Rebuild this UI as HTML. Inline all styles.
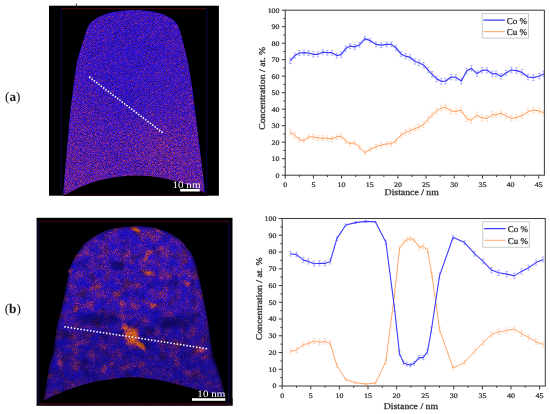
<!DOCTYPE html>
<html lang="en"><head><meta charset="utf-8"><title>APT concentration profiles</title>
<style>
html,body{margin:0;padding:0;background:#fff}
body{width:550px;height:414px;overflow:hidden}
svg{display:block;font-family:"Liberation Serif","DejaVu Serif",serif;text-rendering:geometricPrecision}
</style></head><body>
<svg width="550" height="414" viewBox="0 0 550 414">
<defs>
<filter id="nzA" x="0" y="0" width="100%" height="100%" color-interpolation-filters="sRGB">
<feTurbulence type="fractalNoise" baseFrequency="1.35" numOctaves="1" seed="7" result="t"/>
<feColorMatrix in="t" type="matrix" values="1 0 0 0 0  0 1 0 0 0  0 0 1 0 0  0 0 0 0 1" result="n"/>
<feComposite in="n" in2="SourceGraphic" operator="arithmetic" k1="0" k2="1" k3="1" k4="-0.5" result="sum"/>
<feColorMatrix in="sum" type="matrix" values="1 0 0 0 0  1 0 0 0 0  1 0 0 0 0  0 0 0 0 1" result="c3"/>
<feComponentTransfer in="c3" result="col"><feFuncR type="table" tableValues="0.080 0.090 0.100 0.110 0.120 0.130 0.140 0.170 0.200 0.250 0.300 0.380 0.460 0.550 0.640 0.710 0.780 0.830 0.880 0.920 0.960"/><feFuncG type="table" tableValues="0.050 0.054 0.058 0.061 0.065 0.069 0.073 0.076 0.080 0.090 0.100 0.120 0.140 0.170 0.200 0.235 0.270 0.315 0.360 0.410 0.460"/><feFuncB type="table" tableValues="0.920 0.913 0.907 0.900 0.893 0.887 0.880 0.860 0.840 0.805 0.770 0.715 0.660 0.595 0.530 0.465 0.400 0.310 0.220 0.140 0.060"/></feComponentTransfer>
<feGaussianBlur in="col" stdDeviation="0.36" result="colb"/>
<feColorMatrix in="n" type="matrix" values="0 0 1.9 0 0.03  0 0 1.9 0 0.03  0 0 1.9 0 0.03  0 0 0 0 1" result="br"/>
<feComposite in="colb" in2="br" operator="arithmetic" k1="1" k2="0" k3="0" k4="0" result="m"/>
<feGaussianBlur in="m" stdDeviation="0.22" result="mb"/>
<feGaussianBlur in="SourceAlpha" stdDeviation="0.55" result="sa"/>
<feComposite in="mb" in2="sa" operator="in"/>
</filter>
<radialGradient id="gA" cx="0.52" cy="0.22" r="0.85" fx="0.52" fy="0.22">
<stop offset="0" stop-color="rgb(108,128,128)"/><stop offset="0.4" stop-color="rgb(119,128,128)"/><stop offset="0.75" stop-color="rgb(138,128,128)"/><stop offset="1" stop-color="rgb(146,128,128)"/>
</radialGradient>
<filter id="nzB" x="0" y="0" width="100%" height="100%" color-interpolation-filters="sRGB">
<feTurbulence type="fractalNoise" baseFrequency="1.35" numOctaves="1" seed="3" result="t"/>
<feColorMatrix in="t" type="matrix" values="1 0 0 0 0  0 1 0 0 0  0 0 1 0 0  0 0 0 0 1" result="n"/>
<feTurbulence type="fractalNoise" baseFrequency="0.1" numOctaves="2" seed="11" result="t2"/>
<feColorMatrix in="t2" type="matrix" values="1 0 0 0 0  0 1 0 0 0  0 0 1 0 0  0 0 0 0 1" result="mm"/>
<feComposite in="n" in2="mm" operator="arithmetic" k1="0" k2="0.85" k3="0.7" k4="-0.275" result="s1"/>
<feComposite in="s1" in2="SourceGraphic" operator="arithmetic" k1="0" k2="1" k3="1" k4="-0.5" result="sum"/>
<feColorMatrix in="sum" type="matrix" values="1 0 0 0 0  1 0 0 0 0  1 0 0 0 0  0 0 0 0 1" result="c3"/>
<feComponentTransfer in="c3" result="col"><feFuncR type="table" tableValues="0.080 0.090 0.100 0.110 0.120 0.130 0.140 0.170 0.200 0.250 0.300 0.380 0.460 0.550 0.640 0.710 0.780 0.830 0.880 0.920 0.960"/><feFuncG type="table" tableValues="0.050 0.054 0.058 0.061 0.065 0.069 0.073 0.076 0.080 0.090 0.100 0.120 0.140 0.170 0.200 0.235 0.270 0.315 0.360 0.410 0.460"/><feFuncB type="table" tableValues="0.920 0.913 0.907 0.900 0.893 0.887 0.880 0.860 0.840 0.805 0.770 0.715 0.660 0.595 0.530 0.465 0.400 0.310 0.220 0.140 0.060"/></feComponentTransfer>
<feGaussianBlur in="col" stdDeviation="0.5" result="colb"/>
<feColorMatrix in="n" type="matrix" values="0 0 1.0 0 0.36  0 0 1.0 0 0.36  0 0 1.0 0 0.36  0 0 0 0 1" result="nb"/>
<feColorMatrix in="SourceGraphic" type="matrix" values="0 2 0 0 0  0 2 0 0 0  0 2 0 0 0  0 0 0 1 0" result="sg"/>
<feColorMatrix in="mm" type="matrix" values="0 1.0 0 0 0.5  0 1.0 0 0 0.5  0 1.0 0 0 0.5  0 0 0 0 1" result="mg"/>
<feComposite in="sg" in2="mg" operator="arithmetic" k1="1" k2="0" k3="0" k4="0" result="sg2"/>
<feComposite in="nb" in2="sg2" operator="arithmetic" k1="1" k2="0" k3="0" k4="0" result="br"/>
<feComposite in="colb" in2="br" operator="arithmetic" k1="1" k2="0" k3="0" k4="0" result="m"/>
<feGaussianBlur in="m" stdDeviation="0.35" result="mb"/>
<feGaussianBlur in="SourceAlpha" stdDeviation="2.2" result="sa"/>
<feComposite in="mb" in2="sa" operator="in"/>
</filter>
<linearGradient id="gB" x1="0" y1="0" x2="0" y2="1">
<stop offset="0" stop-color="rgb(118,128,128)"/><stop offset="0.45" stop-color="rgb(113,122,128)"/><stop offset="0.6" stop-color="rgb(108,104,128)"/><stop offset="1" stop-color="rgb(106,98,128)"/>
</linearGradient>
<radialGradient id="ra"><stop offset="0" stop-color="rgb(150,128,128)" stop-opacity="0.8"/><stop offset="1" stop-color="rgb(146,128,128)" stop-opacity="0"/></radialGradient>
<radialGradient id="ba"><stop offset="0" stop-color="rgb(104,128,128)" stop-opacity="0.9"/><stop offset="1" stop-color="rgb(110,128,128)" stop-opacity="0"/></radialGradient>
<radialGradient id="ob"><stop offset="0" stop-color="rgb(245,135,128)" stop-opacity="1"/><stop offset="0.5" stop-color="rgb(232,130,128)" stop-opacity="0.9"/><stop offset="1" stop-color="rgb(170,120,128)" stop-opacity="0"/></radialGradient>
<radialGradient id="os"><stop offset="0" stop-color="rgb(205,125,128)" stop-opacity="0.95"/><stop offset="0.5" stop-color="rgb(190,122,128)" stop-opacity="0.75"/><stop offset="1" stop-color="rgb(165,118,128)" stop-opacity="0"/></radialGradient>
<radialGradient id="db"><stop offset="0" stop-color="rgb(78,66,128)" stop-opacity="0.95"/><stop offset="0.6" stop-color="rgb(82,76,128)" stop-opacity="0.7"/><stop offset="1" stop-color="rgb(90,95,128)" stop-opacity="0"/></radialGradient>
<clipPath id="cpA"><path d="M62.3 200.0C62.4 198.9 62.7 198.9 63.2 193.6C63.7 188.3 64.5 176.8 65.2 168.0C65.9 159.2 66.8 150.0 67.6 141.0C68.4 132.0 69.0 123.0 70.0 114.0C71.0 105.0 72.2 95.4 73.3 87.0C74.4 78.6 75.7 68.9 76.7 63.4C77.7 57.9 78.0 57.9 79.1 54.1C80.2 50.3 81.8 44.8 83.2 40.5C84.6 36.2 85.9 31.3 87.3 28.2C88.7 25.1 89.1 23.9 91.4 21.9C93.7 19.8 97.1 17.6 100.9 15.9C104.8 14.2 109.3 12.8 114.5 11.8C119.7 10.8 126.4 10.0 132.3 9.9C138.2 9.8 144.8 10.2 150.0 11.0C155.2 11.8 159.7 13.0 163.6 14.5C167.5 16.0 170.7 17.9 173.2 20.0C175.7 22.1 177.0 23.4 178.6 26.8C180.2 30.2 181.5 36.0 182.7 40.5C183.9 45.0 185.1 50.2 186.0 54.1C186.9 58.0 187.2 58.1 188.2 63.6C189.2 69.1 190.9 78.6 192.1 87.0C193.3 95.4 194.4 105.0 195.5 114.0C196.6 123.0 197.8 132.0 198.9 141.0C200.0 150.0 201.3 159.5 202.3 168.0C203.3 176.5 204.4 186.7 205.0 192.0C205.6 197.3 205.7 198.7 205.8 200.0Z"/></clipPath>
<clipPath id="cA"><rect x="49" y="5.7" width="169.9" height="190"/></clipPath>
<clipPath id="cB"><rect x="36.6" y="217.8" width="195.9" height="187.8"/></clipPath>
</defs>
<rect width="550" height="414" fill="#fff"/>

<g id="imgA">
<rect x="49" y="5.7" width="169.9" height="190" fill="#000"/>
<path d="M76.4 3.6V6.5" stroke="#111" stroke-width="0.8"/>
<g clip-path="url(#cA)">
<g filter="url(#nzA)">
<path id="shA" d="M62.3 200.0C62.4 198.9 62.7 198.9 63.2 193.6C63.7 188.3 64.5 176.8 65.2 168.0C65.9 159.2 66.8 150.0 67.6 141.0C68.4 132.0 69.0 123.0 70.0 114.0C71.0 105.0 72.2 95.4 73.3 87.0C74.4 78.6 75.7 68.9 76.7 63.4C77.7 57.9 78.0 57.9 79.1 54.1C80.2 50.3 81.8 44.8 83.2 40.5C84.6 36.2 85.9 31.3 87.3 28.2C88.7 25.1 89.1 23.9 91.4 21.9C93.7 19.8 97.1 17.6 100.9 15.9C104.8 14.2 109.3 12.8 114.5 11.8C119.7 10.8 126.4 10.0 132.3 9.9C138.2 9.8 144.8 10.2 150.0 11.0C155.2 11.8 159.7 13.0 163.6 14.5C167.5 16.0 170.7 17.9 173.2 20.0C175.7 22.1 177.0 23.4 178.6 26.8C180.2 30.2 181.5 36.0 182.7 40.5C183.9 45.0 185.1 50.2 186.0 54.1C186.9 58.0 187.2 58.1 188.2 63.6C189.2 69.1 190.9 78.6 192.1 87.0C193.3 95.4 194.4 105.0 195.5 114.0C196.6 123.0 197.8 132.0 198.9 141.0C200.0 150.0 201.3 159.5 202.3 168.0C203.3 176.5 204.4 186.7 205.0 192.0C205.6 197.3 205.7 198.7 205.8 200.0Z" fill="url(#gA)"/>
<g clip-path="url(#cpA)">
<ellipse cx="160" cy="150" rx="48" ry="42" fill="url(#ra)"/>
<ellipse cx="120" cy="70" rx="45" ry="55" fill="url(#ba)"/>
</g>
</g>
<ellipse cx="136.5" cy="275.5" rx="120" ry="100" fill="#000"/>
</g>
<path d="M61.5 8.7H206.6" stroke="#5a0d10" stroke-width="0.9"/>
<path d="M61 8.7V195M206.7 8.7V195" stroke="#0e0b50" stroke-width="0.8"/>
<path d="M61 194.7H207" stroke="#2c0708" stroke-width="0.8"/>
<path d="M89.7 77.3 L163.6 133.4" stroke="#fff" stroke-width="1.75" stroke-dasharray="0.01 2.92" stroke-linecap="round" fill="none"/>
<rect x="180.2" y="188.9" width="19.6" height="2.6" fill="#fff"/>
<text transform="translate(200.5 187.8) scale(1.14 1)" font-size="9.7" fill="#fff" text-anchor="end">10 nm</text>
</g>

<g id="imgB">
<rect x="36.6" y="217.8" width="195.9" height="187.8" fill="#000"/>
<g clip-path="url(#cB)">
<g filter="url(#nzB)">
<path id="shB" d="M42.0 410.0C42.2 408.5 42.6 405.0 43.3 401.0C44.0 397.0 45.1 391.5 46.0 386.0C46.9 380.5 47.5 373.8 48.7 368.0C49.9 362.2 52.0 357.5 53.3 351.0C54.6 344.5 55.1 335.8 56.4 329.0C57.7 322.2 59.4 316.8 61.0 310.0C62.6 303.2 64.2 295.3 65.8 288.0C67.4 280.7 68.3 272.2 70.5 266.0C72.7 259.8 76.3 254.7 79.1 250.5C81.9 246.3 83.7 243.9 87.3 240.9C90.9 237.9 96.4 234.8 100.9 232.7C105.4 230.6 109.0 229.2 114.5 228.1C120.0 227.0 127.2 226.0 133.6 225.9C140.0 225.8 146.8 226.2 152.7 227.3C158.6 228.4 164.5 230.7 169.1 232.7C173.7 234.7 176.8 236.8 180.0 239.5C183.2 242.2 185.7 245.4 188.2 249.1C190.7 252.8 192.8 254.9 195.0 261.4C197.2 267.9 199.3 278.4 201.4 288.0C203.5 297.6 205.9 308.6 207.7 319.0C209.5 329.4 210.1 340.9 212.2 350.6C214.3 360.3 218.1 369.4 220.3 377.0C222.5 384.6 224.2 390.5 225.5 396.0C226.8 401.5 227.6 407.7 228.0 410.0Z" fill="url(#gB)"/>
<g>
<ellipse cx="97" cy="319" rx="27" ry="9" fill="url(#db)"/>
<ellipse cx="175" cy="322" rx="27" ry="8.5" fill="url(#db)"/>
<ellipse cx="118" cy="266" rx="9" ry="6" fill="url(#db)"/>
<ellipse cx="150" cy="331" rx="9" ry="6" fill="url(#db)"/>
<ellipse cx="131.5" cy="335" rx="10.5" ry="12" fill="url(#ob)"/>
<ellipse cx="125" cy="327" rx="5" ry="5" fill="url(#ob)"/>
<ellipse cx="141" cy="345.5" rx="9" ry="3.8" fill="url(#ob)" transform="rotate(38 141 345.5)"/>
<ellipse cx="135.6" cy="229.6" rx="7.5" ry="2.6" fill="url(#ob)" transform="rotate(24 135.6 229.6)"/>
<ellipse cx="160.2" cy="231.8" rx="7.5" ry="2.2" fill="url(#ob)" transform="rotate(26 160.2 231.8)" opacity="0.8"/>
<ellipse cx="147.6" cy="254.8" rx="3.5" ry="9" fill="url(#os)" transform="rotate(28 147.6 254.8)"/>
<ellipse cx="131.4" cy="262" rx="5" ry="4" fill="url(#os)"/>
<ellipse cx="160.2" cy="247.6" rx="5" ry="4" fill="url(#os)"/>
<ellipse cx="70.2" cy="271" rx="4" ry="5" fill="url(#os)"/>
<ellipse cx="95.4" cy="287" rx="10" ry="4" fill="url(#os)" transform="rotate(-15 95.4 287)"/>
<ellipse cx="117" cy="294.4" rx="6" ry="4" fill="url(#os)"/>
<ellipse cx="122.4" cy="303.4" rx="5" ry="5" fill="url(#os)"/>
<ellipse cx="149.4" cy="272.8" rx="9" ry="4" fill="url(#os)"/>
<ellipse cx="154.8" cy="305.2" rx="6" ry="4" fill="url(#os)"/>
<ellipse cx="180" cy="274.6" rx="6" ry="4" fill="url(#os)"/>
<ellipse cx="187.2" cy="283.6" rx="5" ry="4" fill="url(#os)"/>
<ellipse cx="75.6" cy="308.8" rx="4" ry="5" fill="url(#os)"/>
<ellipse cx="82.8" cy="343" rx="9" ry="4" fill="url(#os)"/>
<ellipse cx="59.4" cy="362.8" rx="5" ry="5" fill="url(#os)"/>
<ellipse cx="104" cy="368" rx="5" ry="7" fill="url(#os)"/>
<ellipse cx="200" cy="350" rx="7" ry="4" fill="url(#os)"/>
</g>
</g>
<path d="M30.0 408.0C32.2 406.8 39.3 403.0 43.3 400.9C47.3 398.8 49.4 397.6 54.2 395.5C59.1 393.4 66.4 390.3 72.4 388.2C78.5 386.1 84.5 384.1 90.5 382.7C96.5 381.2 102.6 380.4 108.7 379.5C114.8 378.6 122.4 378.0 126.9 377.6C131.5 377.2 131.8 377.1 136.0 377.3C140.2 377.6 146.5 378.2 152.2 379.1C157.9 380.0 164.3 381.3 170.4 382.7C176.5 384.1 182.4 385.7 188.5 387.3C194.6 388.9 201.2 390.8 206.7 392.2C212.2 393.6 216.4 394.4 221.3 395.5C226.2 396.6 233.6 398.4 236.0 399.0L236 410L30 410Z" fill="#000"/>
</g>
<path d="M38 221.4H229" stroke="#4a0c10" stroke-width="0.9"/>
<path d="M38 404H231" stroke="#5a0d14" stroke-width="0.9"/>
<path d="M38.2 221.4V404M228.8 221.4V404" stroke="#14106a" stroke-width="0.8"/>
<path d="M65 326.8 L208.6 349" stroke="#fff" stroke-width="1.75" stroke-dasharray="0.01 3.24" stroke-linecap="round" fill="none"/>
<rect x="192" y="398.2" width="33.3" height="2.6" fill="#fff"/>
<text transform="translate(225.3 397.4) scale(1.14 1)" font-size="9.7" fill="#fff" text-anchor="end">10 nm</text>
</g>

<text x="5" y="101.3" font-size="13.2" fill="#111">(<tspan font-weight="bold">a</tspan>)</text>
<text x="4.7" y="312.7" font-size="13.2" fill="#111">(<tspan font-weight="bold">b</tspan>)</text>
<g id="chartA"><rect x="285.25" y="10.20" width="259.15" height="165.00" fill="#fff" stroke="#404040" stroke-width="1.05"/>
<path d="M285.25 175.20h-3.40M285.25 166.95h-1.80M285.25 158.70h-3.40M285.25 150.45h-1.80M285.25 142.20h-3.40M285.25 133.95h-1.80M285.25 125.70h-3.40M285.25 117.45h-1.80M285.25 109.20h-3.40M285.25 100.95h-1.80M285.25 92.70h-3.40M285.25 84.45h-1.80M285.25 76.20h-3.40M285.25 67.95h-1.80M285.25 59.70h-3.40M285.25 51.45h-1.80M285.25 43.20h-3.40M285.25 34.95h-1.80M285.25 26.70h-3.40M285.25 18.45h-1.80M285.25 10.20h-3.40M285.25 175.20v3.40M299.33 175.20v1.80M313.42 175.20v3.40M327.50 175.20v1.80M341.59 175.20v3.40M355.67 175.20v1.80M369.76 175.20v3.40M383.84 175.20v1.80M397.92 175.20v3.40M412.01 175.20v1.80M426.09 175.20v3.40M440.18 175.20v1.80M454.26 175.20v3.40M468.35 175.20v1.80M482.43 175.20v3.40M496.51 175.20v1.80M510.60 175.20v3.40M524.68 175.20v1.80M538.77 175.20v3.40" stroke="#3a3a3a" stroke-width="1" fill="none"/>
<g font-size="6.95" fill="#2a2a2a" stroke="#2a2a2a" stroke-width="0.22">
<text transform="translate(279.60 177.60) scale(1.15 1)" text-anchor="end">0</text>
<text transform="translate(279.60 161.10) scale(1.15 1)" text-anchor="end">10</text>
<text transform="translate(279.60 144.60) scale(1.15 1)" text-anchor="end">20</text>
<text transform="translate(279.60 128.10) scale(1.15 1)" text-anchor="end">30</text>
<text transform="translate(279.60 111.60) scale(1.15 1)" text-anchor="end">40</text>
<text transform="translate(279.60 95.10) scale(1.15 1)" text-anchor="end">50</text>
<text transform="translate(279.60 78.60) scale(1.15 1)" text-anchor="end">60</text>
<text transform="translate(279.60 62.10) scale(1.15 1)" text-anchor="end">70</text>
<text transform="translate(279.60 45.60) scale(1.15 1)" text-anchor="end">80</text>
<text transform="translate(279.60 29.10) scale(1.15 1)" text-anchor="end">90</text>
<text transform="translate(279.60 12.60) scale(1.15 1)" text-anchor="end">100</text>
<text transform="translate(285.25 186.60) scale(1.15 1)" text-anchor="middle">0</text>
<text transform="translate(313.42 186.60) scale(1.15 1)" text-anchor="middle">5</text>
<text transform="translate(341.59 186.60) scale(1.15 1)" text-anchor="middle">10</text>
<text transform="translate(369.76 186.60) scale(1.15 1)" text-anchor="middle">15</text>
<text transform="translate(397.92 186.60) scale(1.15 1)" text-anchor="middle">20</text>
<text transform="translate(426.09 186.60) scale(1.15 1)" text-anchor="middle">25</text>
<text transform="translate(454.26 186.60) scale(1.15 1)" text-anchor="middle">30</text>
<text transform="translate(482.43 186.60) scale(1.15 1)" text-anchor="middle">35</text>
<text transform="translate(510.60 186.60) scale(1.15 1)" text-anchor="middle">40</text>
<text transform="translate(538.77 186.60) scale(1.15 1)" text-anchor="middle">45</text>
</g>
<text transform="translate(411.70 194.90) scale(1.10 1)" font-size="8.9" fill="#2e2e2e" stroke="#2e2e2e" stroke-width="0.28" text-anchor="middle">Distance / nm</text>
<text transform="translate(265.20 88.30) rotate(-90) scale(1.10 1)" font-size="8.9" fill="#2e2e2e" stroke="#2e2e2e" stroke-width="0.28" text-anchor="middle">Concentration / at. %</text>
<path d="M290.3 58.2V63.6M289.0 58.2h2.6M289.0 63.6h2.6M294.8 53.0V58.2M293.5 53.0h2.6M293.5 58.2h2.6M299.4 50.5V55.5M298.1 50.5h2.6M298.1 55.5h2.6M304.0 50.2V55.2M302.7 50.2h2.6M302.7 55.2h2.6M308.6 50.5V55.5M307.3 50.5h2.6M307.3 55.5h2.6M313.3 51.7V56.9M312.0 51.7h2.6M312.0 56.9h2.6M317.8 51.7V56.9M316.5 51.7h2.6M316.5 56.9h2.6M322.7 49.7V54.7M321.4 49.7h2.6M321.4 54.7h2.6M327.3 50.2V55.2M326.0 50.2h2.6M326.0 55.2h2.6M331.9 50.2V55.2M330.6 50.2h2.6M330.6 55.2h2.6M336.6 53.0V58.2M335.3 53.0h2.6M335.3 58.2h2.6M341.1 52.1V57.3M339.8 52.1h2.6M339.8 57.3h2.6M345.7 46.1V51.1M344.4 46.1h2.6M344.4 51.1h2.6M350.1 43.7V48.5M348.8 43.7h2.6M348.8 48.5h2.6M354.7 44.5V49.3M353.4 44.5h2.6M353.4 49.3h2.6M359.6 42.4V47.2M358.3 42.4h2.6M358.3 47.2h2.6M364.9 36.4V40.8M363.6 36.4h2.6M363.6 40.8h2.6M370.2 38.4V42.8M368.9 38.4h2.6M368.9 42.8h2.6M376.1 42.0V46.8M374.8 42.0h2.6M374.8 46.8h2.6M381.3 42.8V47.6M380.0 42.8h2.6M380.0 47.6h2.6M386.8 42.0V46.8M385.5 42.0h2.6M385.5 46.8h2.6M391.5 42.0V46.8M390.2 42.0h2.6M390.2 46.8h2.6M396.1 45.6V50.4M394.8 45.6h2.6M394.8 50.4h2.6M401.1 51.6V56.8M399.8 51.6h2.6M399.8 56.8h2.6M405.6 53.6V58.8M404.3 53.6h2.6M404.3 58.8h2.6M410.1 54.7V59.9M408.8 54.7h2.6M408.8 59.9h2.6M415.0 58.8V64.2M413.7 58.8h2.6M413.7 64.2h2.6M419.1 60.1V65.5M417.8 60.1h2.6M417.8 65.5h2.6M423.7 62.5V67.9M422.4 62.5h2.6M422.4 67.9h2.6M428.1 67.4V73.0M426.8 67.4h2.6M426.8 73.0h2.6M432.2 71.5V77.1M430.9 71.5h2.6M430.9 77.1h2.6M436.7 76.0V81.8M435.4 76.0h2.6M435.4 81.8h2.6M441.3 78.4V84.2M440.0 78.4h2.6M440.0 84.2h2.6M445.5 78.3V84.1M444.2 78.3h2.6M444.2 84.1h2.6M451.0 74.2V79.8M449.7 74.2h2.6M449.7 79.8h2.6M456.0 74.6V80.2M454.7 74.6h2.6M454.7 80.2h2.6M461.4 78.1V83.9M460.1 78.1h2.6M460.1 83.9h2.6M466.6 68.2V73.8M465.3 68.2h2.6M465.3 73.8h2.6M471.4 65.6V71.2M470.1 65.6h2.6M470.1 71.2h2.6M477.0 70.8V76.4M475.7 70.8h2.6M475.7 76.4h2.6M482.0 67.6V73.2M480.7 67.6h2.6M480.7 73.2h2.6M487.0 67.2V72.8M485.7 67.2h2.6M485.7 72.8h2.6M492.4 71.2V76.8M491.1 71.2h2.6M491.1 76.8h2.6M496.0 70.8V76.4M494.7 70.8h2.6M494.7 76.4h2.6M501.0 73.6V79.2M499.7 73.6h2.6M499.7 79.2h2.6M506.0 70.2V75.8M504.7 70.2h2.6M504.7 75.8h2.6M511.4 67.2V72.8M510.1 67.2h2.6M510.1 72.8h2.6M516.6 67.8V73.4M515.3 67.8h2.6M515.3 73.4h2.6M522.0 69.6V75.2M520.7 69.6h2.6M520.7 75.2h2.6M528.0 74.2V79.8M526.7 74.2h2.6M526.7 79.8h2.6M533.4 74.7V80.5M532.1 74.7h2.6M532.1 80.5h2.6M539.4 73.2V78.8M538.1 73.2h2.6M538.1 78.8h2.6M543.6 71.2V76.8M542.3 71.2h2.6M542.3 76.8h2.6" fill="none" stroke="#3a3aff" stroke-width="0.55" opacity="0.6"/>
<path d="M290.3 129.3V134.5M289.0 129.3h2.6M289.0 134.5h2.6M294.8 132.7V137.7M293.5 132.7h2.6M293.5 137.7h2.6M299.4 137.3V142.1M298.1 137.3h2.6M298.1 142.1h2.6M303.8 138.2V143.0M302.5 138.2h2.6M302.5 143.0h2.6M308.7 134.5V139.3M307.4 134.5h2.6M307.4 139.3h2.6M313.3 134.5V139.3M312.0 134.5h2.6M312.0 139.3h2.6M318.1 135.6V140.4M316.8 135.6h2.6M316.8 140.4h2.6M322.7 135.8V140.6M321.4 135.8h2.6M321.4 140.6h2.6M327.3 135.6V140.4M326.0 135.6h2.6M326.0 140.4h2.6M331.9 136.6V141.4M330.6 136.6h2.6M330.6 141.4h2.6M336.6 134.5V139.3M335.3 134.5h2.6M335.3 139.3h2.6M341.1 133.5V138.5M339.8 133.5h2.6M339.8 138.5h2.6M345.7 138.6V143.4M344.4 138.6h2.6M344.4 143.4h2.6M350.1 141.5V146.1M348.8 141.5h2.6M348.8 146.1h2.6M354.4 140.3V144.9M353.1 140.3h2.6M353.1 144.9h2.6M359.6 145.0V149.4M358.3 145.0h2.6M358.3 149.4h2.6M364.9 150.8V154.8M363.6 150.8h2.6M363.6 154.8h2.6M370.2 147.1V151.3M368.9 147.1h2.6M368.9 151.3h2.6M376.1 144.5V148.9M374.8 144.5h2.6M374.8 148.9h2.6M381.3 142.9V147.3M380.0 142.9h2.6M380.0 147.3h2.6M386.8 141.5V146.1M385.5 141.5h2.6M385.5 146.1h2.6M391.2 141.5V146.1M389.9 141.5h2.6M389.9 146.1h2.6M395.8 138.6V143.4M394.5 138.6h2.6M394.5 143.4h2.6M401.1 132.4V137.4M399.8 132.4h2.6M399.8 137.4h2.6M405.6 129.9V134.9M404.3 129.9h2.6M404.3 134.9h2.6M410.1 128.2V133.4M408.8 128.2h2.6M408.8 133.4h2.6M415.0 126.1V131.3M413.7 126.1h2.6M413.7 131.3h2.6M419.1 124.4V129.6M417.8 124.4h2.6M417.8 129.6h2.6M423.7 121.9V127.3M422.4 121.9h2.6M422.4 127.3h2.6M428.1 116.6V122.0M426.8 116.6h2.6M426.8 122.0h2.6M432.2 112.2V117.8M430.9 112.2h2.6M430.9 117.8h2.6M436.7 108.1V113.7M435.4 108.1h2.6M435.4 113.7h2.6M441.3 105.4V111.0M440.0 105.4h2.6M440.0 111.0h2.6M445.5 104.1V109.9M444.2 104.1h2.6M444.2 109.9h2.6M451.0 108.2V113.8M449.7 108.2h2.6M449.7 113.8h2.6M456.0 108.6V114.2M454.7 108.6h2.6M454.7 114.2h2.6M461.0 107.2V112.8M459.7 107.2h2.6M459.7 112.8h2.6M466.6 115.8V121.4M465.3 115.8h2.6M465.3 121.4h2.6M471.0 117.7V123.1M469.7 117.7h2.6M469.7 123.1h2.6M477.0 112.2V117.8M475.7 112.2h2.6M475.7 117.8h2.6M482.0 115.2V120.8M480.7 115.2h2.6M480.7 120.8h2.6M487.0 115.6V121.2M485.7 115.6h2.6M485.7 121.2h2.6M492.4 111.6V117.2M491.1 111.6h2.6M491.1 117.2h2.6M496.0 112.2V117.8M494.7 112.2h2.6M494.7 117.8h2.6M501.0 110.2V115.8M499.7 110.2h2.6M499.7 115.8h2.6M506.0 113.2V118.8M504.7 113.2h2.6M504.7 118.8h2.6M511.4 115.6V121.2M510.1 115.6h2.6M510.1 121.2h2.6M516.6 114.6V120.2M515.3 114.6h2.6M515.3 120.2h2.6M522.0 112.8V118.4M520.7 112.8h2.6M520.7 118.4h2.6M528.0 108.8V114.4M526.7 108.8h2.6M526.7 114.4h2.6M533.4 107.2V112.8M532.1 107.2h2.6M532.1 112.8h2.6M539.4 108.2V113.8M538.1 108.2h2.6M538.1 113.8h2.6M543.6 110.2V115.8M542.3 110.2h2.6M542.3 115.8h2.6" fill="none" stroke="#ff9a55" stroke-width="0.55" opacity="0.6"/>
<polyline points="290.3,131.9 294.8,135.2 299.4,139.7 303.8,140.6 308.7,136.9 313.3,136.9 318.1,138.0 322.7,138.2 327.3,138.0 331.9,139.0 336.6,136.9 341.1,136.0 345.7,141.0 350.1,143.8 354.4,142.6 359.6,147.2 364.9,152.8 370.2,149.2 376.1,146.7 381.3,145.1 386.8,143.8 391.2,143.8 395.8,141.0 401.1,134.9 405.6,132.4 410.1,130.8 415.0,128.7 419.1,127.0 423.7,124.6 428.1,119.3 432.2,115.0 436.7,110.9 441.3,108.2 445.5,107.0 451.0,111.0 456.0,111.4 461.0,110.0 466.6,118.6 471.0,120.4 477.0,115.0 482.0,118.0 487.0,118.4 492.4,114.4 496.0,115.0 501.0,113.0 506.0,116.0 511.4,118.4 516.6,117.4 522.0,115.6 528.0,111.6 533.4,110.0 539.4,111.0 543.6,113.0" fill="none" stroke="#ff9a55" stroke-width="1.0" stroke-linejoin="round"/>
<polyline points="290.3,60.9 294.8,55.6 299.4,53.0 304.0,52.7 308.6,53.0 313.3,54.3 317.8,54.3 322.7,52.2 327.3,52.7 331.9,52.7 336.6,55.6 341.1,54.7 345.7,48.6 350.1,46.1 354.7,46.9 359.6,44.8 364.9,38.6 370.2,40.6 376.1,44.4 381.3,45.2 386.8,44.4 391.5,44.4 396.1,48.0 401.1,54.2 405.6,56.2 410.1,57.3 415.0,61.5 419.1,62.8 423.7,65.2 428.1,70.2 432.2,74.3 436.7,78.9 441.3,81.3 445.5,81.2 451.0,77.0 456.0,77.4 461.4,81.0 466.6,71.0 471.4,68.4 477.0,73.6 482.0,70.4 487.0,70.0 492.4,74.0 496.0,73.6 501.0,76.4 506.0,73.0 511.4,70.0 516.6,70.6 522.0,72.4 528.0,77.0 533.4,77.6 539.4,76.0 543.6,74.0" fill="none" stroke="#3a3aff" stroke-width="1.2" stroke-linejoin="round"/>
<rect x="482.20" y="13.40" width="46.40" height="24.70" fill="#fff" stroke="#bdbdbd" stroke-width="0.8"/>
<path d="M483.40 20.10H504.90" stroke="#3a3aff" stroke-width="1.25"/>
<path d="M483.40 31.70H504.90" stroke="#ff9a55" stroke-width="0.95"/>
<text x="506.70" y="23.50" font-size="9.0" fill="#222" stroke="#222" stroke-width="0.22">Co %</text>
<text x="506.70" y="35.10" font-size="9.0" fill="#222" stroke="#222" stroke-width="0.22">Cu %</text></g>
<g id="chartB"><rect x="282.20" y="218.50" width="263.10" height="167.50" fill="#fff" stroke="#404040" stroke-width="1.05"/>
<path d="M282.20 386.00h-3.40M282.20 377.62h-1.80M282.20 369.25h-3.40M282.20 360.88h-1.80M282.20 352.50h-3.40M282.20 344.12h-1.80M282.20 335.75h-3.40M282.20 327.38h-1.80M282.20 319.00h-3.40M282.20 310.62h-1.80M282.20 302.25h-3.40M282.20 293.88h-1.80M282.20 285.50h-3.40M282.20 277.12h-1.80M282.20 268.75h-3.40M282.20 260.38h-1.80M282.20 252.00h-3.40M282.20 243.62h-1.80M282.20 235.25h-3.40M282.20 226.88h-1.80M282.20 218.50h-3.40M282.20 386.00v3.40M296.50 386.00v1.80M310.80 386.00v3.40M325.10 386.00v1.80M339.40 386.00v3.40M353.69 386.00v1.80M367.99 386.00v3.40M382.29 386.00v1.80M396.59 386.00v3.40M410.89 386.00v1.80M425.19 386.00v3.40M439.49 386.00v1.80M453.79 386.00v3.40M468.09 386.00v1.80M482.38 386.00v3.40M496.68 386.00v1.80M510.98 386.00v3.40M525.28 386.00v1.80M539.58 386.00v3.40" stroke="#3a3a3a" stroke-width="1" fill="none"/>
<g font-size="6.95" fill="#2a2a2a" stroke="#2a2a2a" stroke-width="0.22">
<text transform="translate(276.50 388.40) scale(1.15 1)" text-anchor="end">0</text>
<text transform="translate(276.50 371.65) scale(1.15 1)" text-anchor="end">10</text>
<text transform="translate(276.50 354.90) scale(1.15 1)" text-anchor="end">20</text>
<text transform="translate(276.50 338.15) scale(1.15 1)" text-anchor="end">30</text>
<text transform="translate(276.50 321.40) scale(1.15 1)" text-anchor="end">40</text>
<text transform="translate(276.50 304.65) scale(1.15 1)" text-anchor="end">50</text>
<text transform="translate(276.50 287.90) scale(1.15 1)" text-anchor="end">60</text>
<text transform="translate(276.50 271.15) scale(1.15 1)" text-anchor="end">70</text>
<text transform="translate(276.50 254.40) scale(1.15 1)" text-anchor="end">80</text>
<text transform="translate(276.50 237.65) scale(1.15 1)" text-anchor="end">90</text>
<text transform="translate(276.50 220.90) scale(1.15 1)" text-anchor="end">100</text>
<text transform="translate(282.20 398.00) scale(1.15 1)" text-anchor="middle">0</text>
<text transform="translate(310.80 398.00) scale(1.15 1)" text-anchor="middle">5</text>
<text transform="translate(339.40 398.00) scale(1.15 1)" text-anchor="middle">10</text>
<text transform="translate(367.99 398.00) scale(1.15 1)" text-anchor="middle">15</text>
<text transform="translate(396.59 398.00) scale(1.15 1)" text-anchor="middle">20</text>
<text transform="translate(425.19 398.00) scale(1.15 1)" text-anchor="middle">25</text>
<text transform="translate(453.79 398.00) scale(1.15 1)" text-anchor="middle">30</text>
<text transform="translate(482.38 398.00) scale(1.15 1)" text-anchor="middle">35</text>
<text transform="translate(510.98 398.00) scale(1.15 1)" text-anchor="middle">40</text>
<text transform="translate(539.58 398.00) scale(1.15 1)" text-anchor="middle">45</text>
</g>
<text transform="translate(410.90 408.60) scale(1.10 1)" font-size="8.9" fill="#2e2e2e" stroke="#2e2e2e" stroke-width="0.28" text-anchor="middle">Distance / nm</text>
<text transform="translate(261.50 298.90) rotate(-90) scale(1.10 1)" font-size="8.9" fill="#2e2e2e" stroke="#2e2e2e" stroke-width="0.28" text-anchor="middle">Concentration / at. %</text>
<path d="M290.4 251.3V256.1M289.1 251.3h2.6M289.1 256.1h2.6M296.7 252.2V257.0M295.4 252.2h2.6M295.4 257.0h2.6M303.3 257.6V262.6M302.0 257.6h2.6M302.0 262.6h2.6M308.5 258.9V263.9M307.2 258.9h2.6M307.2 263.9h2.6M314.0 261.1V266.3M312.7 261.1h2.6M312.7 266.3h2.6M319.5 260.6V265.8M318.2 260.6h2.6M318.2 265.8h2.6M324.9 260.8V266.0M323.6 260.8h2.6M323.6 266.0h2.6M330.2 258.9V263.9M328.9 258.9h2.6M328.9 263.9h2.6M336.9 236.7V240.5M335.6 236.7h2.6M335.6 240.5h2.6M345.8 223.9V226.1M344.5 223.9h2.6M344.5 226.1h2.6M355.5 221.7V223.5M354.2 221.7h2.6M354.2 223.5h2.6M365.5 220.6V222.2M364.2 220.6h2.6M364.2 222.2h2.6M375.5 221.1V222.7M374.2 221.1h2.6M374.2 222.7h2.6M385.9 240.3V244.3M384.6 240.3h2.6M384.6 244.3h2.6M394.5 305.3V311.1M393.2 305.3h2.6M393.2 311.1h2.6M399.5 351.3V355.9M398.2 351.3h2.6M398.2 355.9h2.6M403.5 360.7V364.7M402.2 360.7h2.6M402.2 364.7h2.6M406.8 362.2V366.2M405.5 362.2h2.6M405.5 366.2h2.6M410.5 363.2V367.0M409.2 363.2h2.6M409.2 367.0h2.6M414.1 361.3V365.3M412.8 361.3h2.6M412.8 365.3h2.6M419.0 355.4V359.8M417.7 355.4h2.6M417.7 359.8h2.6M423.2 355.4V359.8M421.9 355.4h2.6M421.9 359.8h2.6M427.4 349.5V354.1M426.1 349.5h2.6M426.1 354.1h2.6M431.4 327.3V332.7M430.1 327.3h2.6M430.1 332.7h2.6M439.5 273.1V278.7M438.2 273.1h2.6M438.2 278.7h2.6M453.1 235.5V239.1M451.8 235.5h2.6M451.8 239.1h2.6M464.5 240.6V244.6M463.2 240.6h2.6M463.2 244.6h2.6M474.5 251.3V256.1M473.2 251.3h2.6M473.2 256.1h2.6M483.1 258.9V263.9M481.8 258.9h2.6M481.8 263.9h2.6M491.5 267.4V272.8M490.2 267.4h2.6M490.2 272.8h2.6M498.7 270.1V275.5M497.4 270.1h2.6M497.4 275.5h2.6M506.7 271.4V276.8M505.4 271.4h2.6M505.4 276.8h2.6M514.2 273.1V278.7M512.9 273.1h2.6M512.9 278.7h2.6M521.5 268.7V274.1M520.2 268.7h2.6M520.2 274.1h2.6M528.5 265.1V270.3M527.2 265.1h2.6M527.2 270.3h2.6M536.0 260.0V265.2M534.7 260.0h2.6M534.7 265.2h2.6M543.1 257.0V262.0M541.8 257.0h2.6M541.8 262.0h2.6" fill="none" stroke="#3a3aff" stroke-width="0.55" opacity="0.6"/>
<path d="M290.4 348.9V353.7M289.1 348.9h2.6M289.1 353.7h2.6M296.7 347.6V352.4M295.4 347.6h2.6M295.4 352.4h2.6M303.3 342.0V347.0M302.0 342.0h2.6M302.0 347.0h2.6M308.5 341.1V346.1M307.2 341.1h2.6M307.2 346.1h2.6M314.0 338.3V343.5M312.7 338.3h2.6M312.7 343.5h2.6M319.5 339.7V344.7M318.2 339.7h2.6M318.2 344.7h2.6M324.9 338.9V344.1M323.6 338.9h2.6M323.6 344.1h2.6M330.2 340.8V345.8M328.9 340.8h2.6M328.9 345.8h2.6M336.9 363.6V367.4M335.6 363.6h2.6M335.6 367.4h2.6M345.8 378.5V380.7M344.5 378.5h2.6M344.5 380.7h2.6M355.5 381.9V383.5M354.2 381.9h2.6M354.2 383.5h2.6M365.5 383.4V384.6M364.2 383.4h2.6M364.2 384.6h2.6M375.5 382.3V383.9M374.2 382.3h2.6M374.2 383.9h2.6M385.9 359.5V363.5M384.6 359.5h2.6M384.6 363.5h2.6M394.3 293.1V298.9M393.0 293.1h2.6M393.0 298.9h2.6M399.5 246.4V250.8M398.2 246.4h2.6M398.2 250.8h2.6M404.1 239.9V243.9M402.8 239.9h2.6M402.8 243.9h2.6M407.4 237.6V241.4M406.1 237.6h2.6M406.1 241.4h2.6M410.5 236.7V240.5M409.2 236.7h2.6M409.2 240.5h2.6M414.1 238.2V242.0M412.8 238.2h2.6M412.8 242.0h2.6M419.5 245.5V249.9M418.2 245.5h2.6M418.2 249.9h2.6M423.2 244.1V248.5M421.9 244.1h2.6M421.9 248.5h2.6M427.7 248.2V252.8M426.4 248.2h2.6M426.4 252.8h2.6M431.9 272.3V277.7M430.6 272.3h2.6M430.6 277.7h2.6M439.7 327.3V332.7M438.4 327.3h2.6M438.4 332.7h2.6M453.1 366.2V369.8M451.8 366.2h2.6M451.8 369.8h2.6M464.5 360.4V364.4M463.2 360.4h2.6M463.2 364.4h2.6M474.5 349.2V353.8M473.2 349.2h2.6M473.2 353.8h2.6M483.1 340.2V345.2M481.8 340.2h2.6M481.8 345.2h2.6M491.5 331.8V337.2M490.2 331.8h2.6M490.2 337.2h2.6M498.7 329.1V334.5M497.4 329.1h2.6M497.4 334.5h2.6M506.7 327.8V333.2M505.4 327.8h2.6M505.4 333.2h2.6M514.2 326.4V331.8M512.9 326.4h2.6M512.9 331.8h2.6M521.5 330.9V336.3M520.2 330.9h2.6M520.2 336.3h2.6M528.5 334.7V339.9M527.2 334.7h2.6M527.2 339.9h2.6M536.0 339.2V344.4M534.7 339.2h2.6M534.7 344.4h2.6M543.1 342.0V347.0M541.8 342.0h2.6M541.8 347.0h2.6" fill="none" stroke="#ff9a55" stroke-width="0.55" opacity="0.6"/>
<polyline points="290.4,351.3 296.7,350.0 303.3,344.5 308.5,343.6 314.0,340.9 319.5,342.2 324.9,341.5 330.2,343.3 336.9,365.5 345.8,379.6 355.5,382.7 365.5,384.0 375.5,383.1 385.9,361.5 394.3,296.0 399.5,248.6 404.1,241.9 407.4,239.5 410.5,238.6 414.1,240.1 419.5,247.7 423.2,246.3 427.7,250.5 431.9,275.0 439.7,330.0 453.1,368.0 464.5,362.4 474.5,351.5 483.1,342.7 491.5,334.5 498.7,331.8 506.7,330.5 514.2,329.1 521.5,333.6 528.5,337.3 536.0,341.8 543.1,344.5" fill="none" stroke="#ff9a55" stroke-width="0.9" stroke-linejoin="round"/>
<polyline points="290.4,253.7 296.7,254.6 303.3,260.1 308.5,261.4 314.0,263.7 319.5,263.2 324.9,263.4 330.2,261.4 336.9,238.6 345.8,225.0 355.5,222.6 365.5,221.4 375.5,221.9 385.9,242.3 394.5,308.2 399.5,353.6 403.5,362.7 406.8,364.2 410.5,365.1 414.1,363.3 419.0,357.6 423.2,357.6 427.4,351.8 431.4,330.0 439.5,275.9 453.1,237.3 464.5,242.6 474.5,253.7 483.1,261.4 491.5,270.1 498.7,272.8 506.7,274.1 514.2,275.9 521.5,271.4 528.5,267.7 536.0,262.6 543.1,259.5" fill="none" stroke="#3a3aff" stroke-width="1.1" stroke-linejoin="round"/>
<rect x="482.80" y="221.70" width="46.50" height="25.50" fill="#fff" stroke="#bdbdbd" stroke-width="0.8"/>
<path d="M484.10 228.60H505.60" stroke="#3a3aff" stroke-width="1.25"/>
<path d="M484.10 240.30H505.60" stroke="#ff9a55" stroke-width="0.855"/>
<text x="507.80" y="232.10" font-size="9.0" fill="#222" stroke="#222" stroke-width="0.22">Co %</text>
<text x="507.80" y="244.20" font-size="9.0" fill="#222" stroke="#222" stroke-width="0.22">Cu %</text></g>
</svg></body></html>
